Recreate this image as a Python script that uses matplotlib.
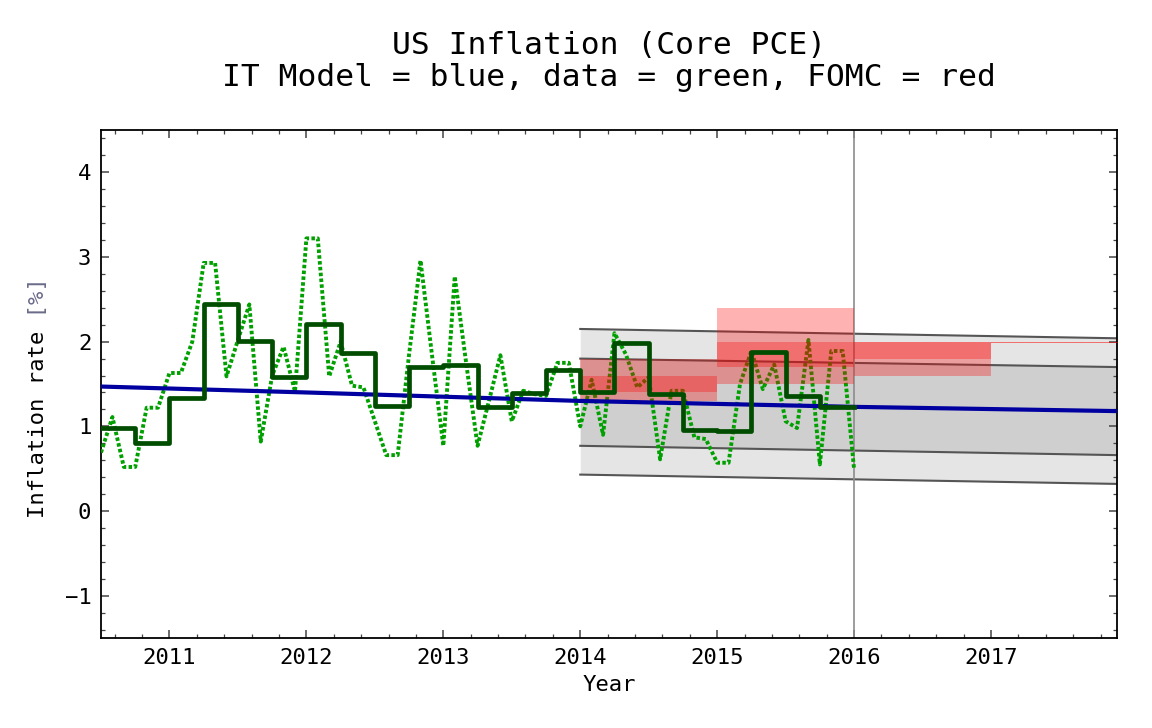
import numpy as np
import matplotlib.pyplot as plt
from matplotlib.ticker import MultipleLocator

plt.rcParams['font.family'] = ['DejaVu Sans Mono', 'DejaVu Sans']

# monthly core PCE inflation (annualized), one value per month from mid 2010
monthly_start = 2010.5
monthly = [0.69, 1.11, 0.52, 0.52, 1.22, 1.22, 1.63, 1.63, 2.00, 2.93,
           2.93, 1.59, 2.02, 2.44, 0.82, 1.60, 1.94, 1.41, 3.22, 3.22,
           1.59, 2.00, 1.48, 1.46, 1.06, 0.66, 0.66, 1.85, 2.96, 1.85,
           0.77, 2.77, 1.75, 0.77, 1.30, 1.84, 1.06, 1.42, 1.38, 1.36,
           1.75, 1.75, 1.00, 1.55, 0.90, 2.10, 1.85, 1.46, 1.58, 0.61,
           1.42, 1.42, 0.87, 0.85, 0.57, 0.57, 1.50, 1.89, 1.44, 1.73,
           1.06, 0.98, 2.02, 0.55, 1.89, 1.89, 0.49]

# quarterly averages, 2010 Q3 .. 2015 Q4
quarterly = [0.98, 0.80, 1.34, 2.45, 2.01, 1.58, 2.21, 1.87, 1.24, 1.70,
             1.72, 1.23, 1.39, 1.66, 1.40, 1.98, 1.38, 0.96, 0.95, 1.88,
             1.36, 1.23]

# IT model path
model_years = [2010.5, 2012.0, 2014.0, 2016.0, 2017.92]
model_vals = [1.47, 1.40, 1.30, 1.23, 1.18]

# model error bands
band_years = [2014.0, 2017.92]
outer_hi = [2.15, 2.04]
inner_hi = [1.80, 1.70]
inner_lo = [0.77, 0.66]
outer_lo = [0.43, 0.32]

# FOMC projections: range and central tendency
fomc_years = [2014, 2015, 2016, 2017]
range_lo = [1.3, 1.5, 1.6, 1.98]
range_hi = [1.8, 2.4, 2.0, 2.0]
ct_lo = [1.4, 1.7, 1.8, 1.98]
ct_hi = [1.6, 2.0, 2.0, 2.0]

fig = plt.figure(figsize=(11.52, 7.28), dpi=100)
ax = fig.add_axes([101 / 1152, 1 - 638 / 728, 1016 / 1152, 508 / 728])

# bands
ax.fill_between(band_years, outer_lo, outer_hi, color='#e5e5e5', lw=0, zorder=1)
ax.fill_between(band_years, inner_lo, inner_hi, color='#cfcfcf', lw=0, zorder=1)
for edge in (outer_hi, inner_hi, inner_lo, outer_lo):
    ax.plot(band_years, edge, color='#555555', lw=1.5, zorder=2)

ax.axvline(2016, color='#8c8c8c', lw=1.2, zorder=2)

# monthly data
t_month = monthly_start + np.arange(len(monthly)) / 12
ax.plot(t_month, monthly, color='#00a000', lw=2.8,
        linestyle=(0, (0.9, 0.6)), zorder=3)

# FOMC boxes
for yr, lo, hi in zip(fomc_years, range_lo, range_hi):
    ax.fill_between([yr, yr + 1], lo, hi, color='red', alpha=0.3, lw=0, zorder=4)
for yr, lo, hi in zip(fomc_years, ct_lo, ct_hi):
    ax.fill_between([yr, yr + 1], lo, hi, color='red', alpha=0.3, lw=0, zorder=4)

# model
ax.plot(model_years, model_vals, color='#0000a0', lw=3.0, zorder=5)

# quarterly data as steps
t_q = monthly_start + np.arange(len(quarterly) + 1) * 0.25
ax.step(t_q, quarterly + [quarterly[-1]], where='post', color='#004d00',
        lw=3.4, zorder=6)

ax.set_xlim(2010.5, 2017.92)
ax.set_ylim(-1.5, 4.5)
ax.xaxis.set_major_locator(MultipleLocator(1))
ax.xaxis.set_minor_locator(MultipleLocator(0.2))
ax.yaxis.set_major_locator(MultipleLocator(1))
ax.yaxis.set_minor_locator(MultipleLocator(0.2))
ax.tick_params(which='both', direction='in', top=True, right=True,
               color='#444444', labelsize=16)
ax.tick_params(which='major', length=6, width=1.1, pad=7)
ax.tick_params(which='minor', length=3, width=0.9)
for s in ax.spines.values():
    s.set_linewidth(1.3)

tx = 609 / 1152
fig.text(tx, 1 - 45 / 728, 'US Inflation (Core PCE)', ha='center',
         va='center', fontsize=22.5)
fig.text(tx, 1 - 78 / 728, 'IT Model = blue, data = green, FOMC = red',
         ha='center', va='center', fontsize=22.5)
fig.text(tx, 1 - 685 / 728, 'Year', ha='center', va='center', fontsize=16)
fig.text(38 / 1152, 1 - 398 / 728, 'Inflation rate    ', rotation=90,
         ha='center', va='center', fontsize=16)
fig.text(38 / 1152, 1 - 398 / 728, '               [%]', rotation=90,
         ha='center', va='center', fontsize=16, color='#6a6a8a')

fig.savefig('out.png', dpi=100)
